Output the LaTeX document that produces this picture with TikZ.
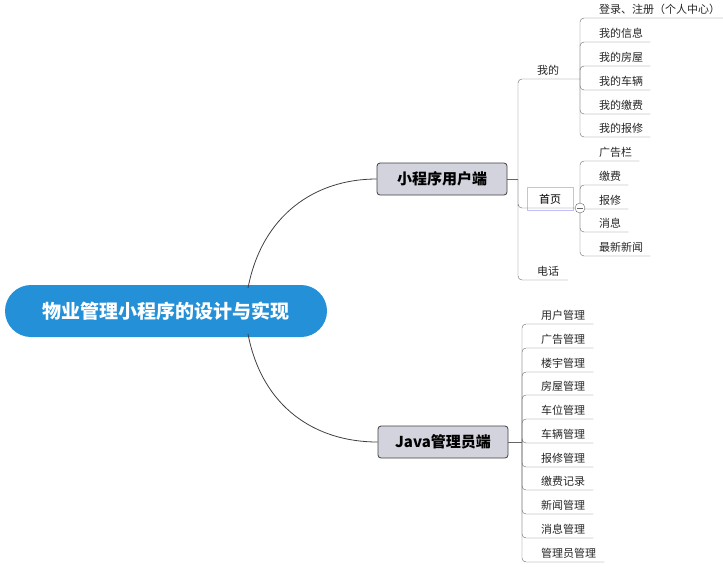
\documentclass[tikz,border=0pt]{standalone}
\usepackage{fontspec}
\setmainfont{Noto Sans CJK SC}
\usetikzlibrary{positioning}
\usetikzlibrary{calc}

\begin{document}
\begin{tikzpicture}[x=1pt,y=-1pt,
            rootnode/.style={rectangle, rounded corners=26pt, fill=cyan!70!blue!90, text=white, font=\fontsize{19}{21}\selectfont\bfseries, minimum width=322pt, minimum height=52pt},
            mainnode/.style={rectangle, rounded corners=3pt, draw=black!75, fill=blue!15!gray!30, thick, font=\fontsize{15}{17}\selectfont\bfseries, minimum width=130pt, minimum height=32pt},
            itemnode/.style={anchor=south west, inner xsep=0pt, inner ysep=3pt, font=\fontsize{11}{13}\selectfont, text=black!85},
            branch/.style={draw=black!60, rounded corners=4pt},
            curve/.style={draw=black!75, thick},
            ]

            \useasboundingbox (0,0) rectangle (723,566);

            \node[rootnode] (root) at (166,311) {物业管理小程序的设计与实现};
            \node[mainnode] (user) at (442,179) {小程序用户端};
            \node[mainnode] (admin) at (443,442) {Java管理员端};

            \draw[curve] (248,288) .. controls (262,215) and (315,179) .. (user.west);
            \draw[curve] (248,334) .. controls (262,407) and (315,442) .. (admin.west);

            % user side
            \coordinate (ut) at (518,179);
            \draw[branch] (user.east) -- (ut);
            \node[itemnode] (mine) at (537,79) {我的};
            \node[draw=blue!25, thick, minimum width=46pt, minimum height=23pt, font=\fontsize{11}{13}\selectfont] (home) at (550,199) {首页};
            \node[itemnode] (tel) at (537,280) {电话};
            \draw[branch] (ut) |- (mine.south west) -- (580,79);
            \draw[branch] (ut) |- (518,208) -- (580,208);
            \draw[branch] (ut) |- (tel.south west) -- (568,280);

            \coordinate (mt) at (580,79);
            \foreach \n/\y/\t in {m1/18/登录、注册（个人中心）, m2/42/我的信息, m3/66/我的房屋, m4/90/我的车辆, m5/114/我的缴费, m6/137/我的报修}{
                \node[itemnode] (\n) at (599,\y) {\t};
                \draw[branch] (mt) |- (\n.south west) -- ([xshift=7pt]\n.south east);
            }

            \coordinate (ht) at (580,208);
            \foreach \n/\y/\t in {h1/161/广告栏, h2/185/缴费, h3/209/报修, h4/232/消息, h5/256/最新新闻}{
                \node[itemnode] (\n) at (599,\y) {\t};
                \draw[branch] (ht) |- (\n.south west) -- ([xshift=7pt]\n.south east);
            }
            \node[circle, draw=black!60, fill=white, inner sep=0pt, minimum size=10pt] (fold) at (ht) {};
            \draw[black!60] ($(fold.center)+(-3,0)$) -- ($(fold.center)+(3,0)$);

            % admin side
            \coordinate (at) at (522,442);
            \draw[branch] (admin.east) -- (at);
            \foreach \n/\y/\t in {j1/324/用户管理, j2/348/广告管理, j3/372/楼宇管理, j4/395/房屋管理, j5/419/车位管理, j6/443/车辆管理, j7/467/报修管理, j8/490/缴费记录, j9/514/新闻管理, j10/538/消息管理, j11/562/管理员管理}{
                \node[itemnode] (\n) at (541,\y) {\t};
                \draw[branch] (at) |- (\n.south west) -- ([xshift=8pt]\n.south east);
            }
        \end{tikzpicture}
\end{document}
